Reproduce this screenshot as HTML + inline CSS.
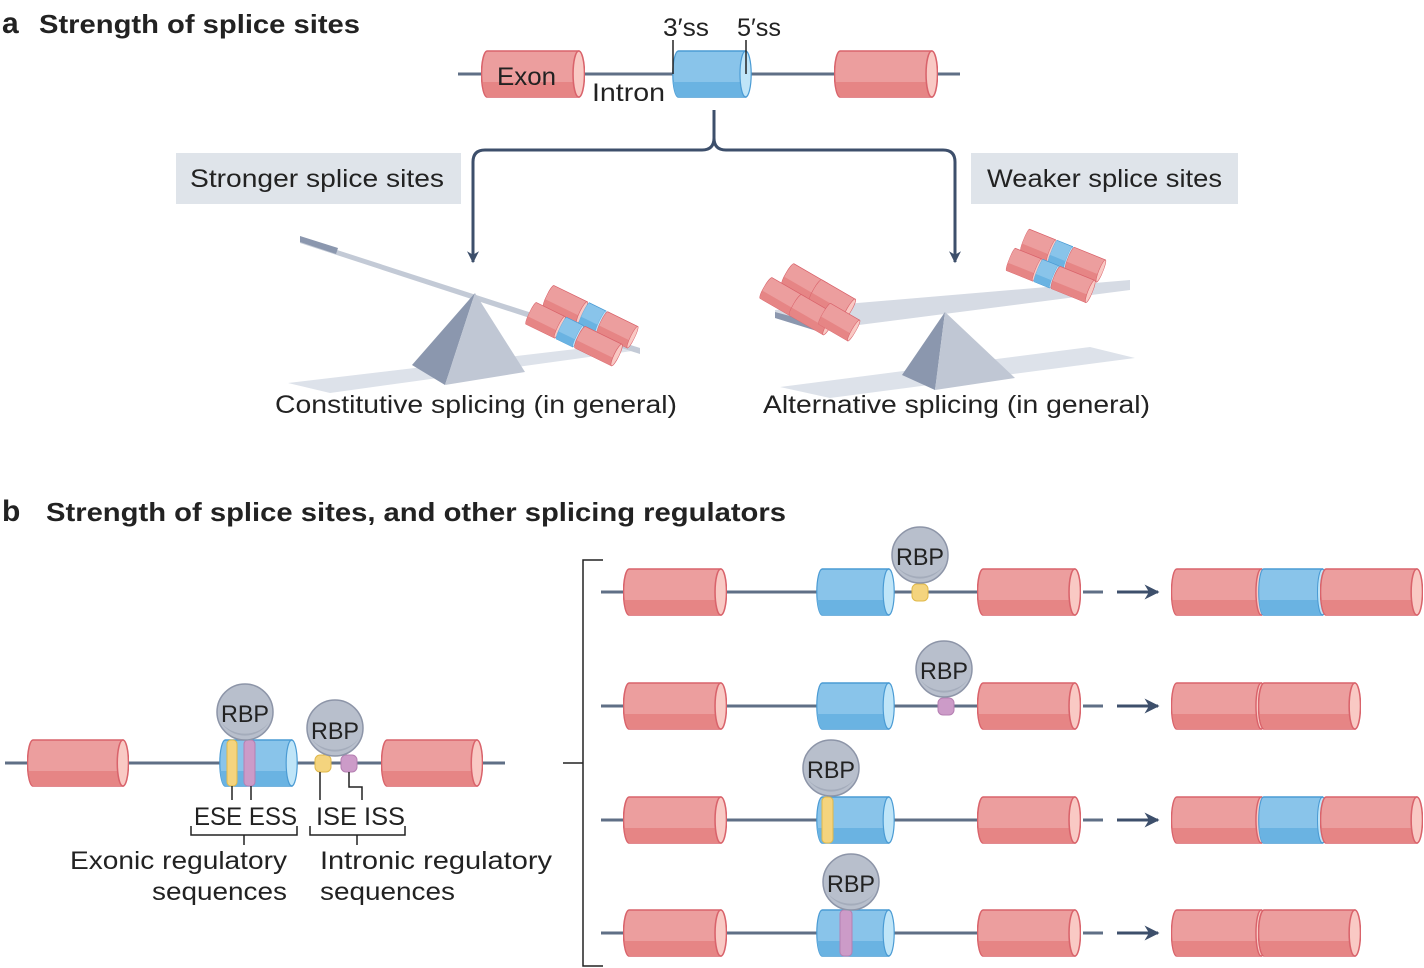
<!DOCTYPE html>
<html><head><meta charset="utf-8"><style>
body{margin:0;background:#fff}
svg{display:block}
text{font-family:"Liberation Sans",sans-serif;fill:#222}
.b{font-weight:bold}
</style></head><body>
<svg width="1424" height="968" viewBox="0 0 1424 968" xmlns="http://www.w3.org/2000/svg">
<defs>
<symbol id="r" viewBox="0 0 100 48" preserveAspectRatio="none">
<path d="M6,1H94V47H6A5.5,23 0 0 1 6,1Z" fill="#ec9e9e" stroke="#d9636b" stroke-width="1.5"/>
<path d="M1.5,32A5.5,23 0 0 0 6,47H94V32Z" fill="#e68585"/>
<ellipse cx="94" cy="24" rx="5.5" ry="23" fill="#f9c9c4" stroke="#d9636b" stroke-width="1.5"/>
</symbol>
<symbol id="bl" viewBox="0 0 100 48" preserveAspectRatio="none">
<path d="M8,1H92V47H8A7,23 0 0 1 8,1Z" fill="#89c4ea" stroke="#4a9bd4" stroke-width="1.5"/>
<path d="M1.5,32A7,23 0 0 0 8,47H92V32Z" fill="#6ab3e2"/>
<ellipse cx="92" cy="24" rx="7" ry="23" fill="#bfe5f8" stroke="#4a9bd4" stroke-width="1.5"/>
</symbol>
<symbol id="rb" viewBox="0 0 60 60"><circle cx="30" cy="30" r="28" fill="#b8bfcc" stroke="#8d95a8" stroke-width="1.5"/><path d="M6,40A28,28 0 0 0 54,40A28,24 0 0 1 6,40Z" fill="#a4acbb"/></symbol>
<marker id="ah" viewBox="0 0 10 10" refX="9" refY="5" markerWidth="5" markerHeight="4" orient="auto"><path d="M0,0L10,5L0,10L3,5Z" fill="#3d4f6b"/></marker>
<marker id="ah2" viewBox="0 0 10 10" refX="9" refY="5" markerWidth="6" markerHeight="5" orient="auto"><path d="M0,0L10,5L0,10L3,5Z" fill="#3d4f6b"/></marker>
</defs>

<!-- Section a -->
<text x="2" y="33" font-size="30" class="b">a</text>
<text x="39" y="33" font-size="26" class="b" textLength="321" lengthAdjust="spacingAndGlyphs">Strength of splice sites</text>
<line x1="458" y1="74" x2="960" y2="74" stroke="#5f6f86" stroke-width="3"/>
<use href="#r" x="481" y="50" width="104" height="48"/>
<use href="#bl" x="672" y="50" width="80" height="48"/>
<use href="#r" x="834" y="50" width="104" height="48"/>
<text x="497" y="85" font-size="25" textLength="59" lengthAdjust="spacingAndGlyphs">Exon</text>
<text x="592" y="101" font-size="25" textLength="73" lengthAdjust="spacingAndGlyphs">Intron</text>
<text x="663" y="36" font-size="25" textLength="46" lengthAdjust="spacingAndGlyphs">3′ss</text>
<text x="737" y="36" font-size="25" textLength="44" lengthAdjust="spacingAndGlyphs">5′ss</text>
<line x1="673" y1="40" x2="673" y2="74" stroke="#222" stroke-width="1.5"/>
<line x1="746" y1="40" x2="746" y2="74" stroke="#222" stroke-width="1.5"/>
<path d="M714,110V138Q714,150 702,150H485Q473,150 473,162V262" fill="none" stroke="#3d4f6b" stroke-width="3" marker-end="url(#ah)"/>
<path d="M714,138Q714,150 726,150H943Q955,150 955,162V262" fill="none" stroke="#3d4f6b" stroke-width="3" marker-end="url(#ah)"/>
<rect x="176" y="153" width="285" height="51" fill="#dfe4ea"/>
<text x="190" y="187" font-size="25" textLength="254" lengthAdjust="spacingAndGlyphs">Stronger splice sites</text>
<rect x="971" y="153" width="267" height="51" fill="#dfe4ea"/>
<text x="987" y="187" font-size="25" textLength="235" lengthAdjust="spacingAndGlyphs">Weaker splice sites</text>

<!-- left seesaw -->
<polygon points="288,383 610,345 640,350 330,393" fill="#dde2ea"/>
<polygon points="300,238 640,348 640,354 300,243" fill="#c3cad6"/>
<polygon points="300,236 338,248 336,254 300,242" fill="#8b97ae"/>
<polygon points="475,293 412,365 445,385" fill="#8b97ae"/>
<polygon points="475,293 445,385 525,372" fill="#c0c7d4"/>
<g transform="translate(552,284) rotate(26)">
<use href="#r" x="0" y="0" width="42" height="25"/><use href="#bl" x="40" y="0" width="22" height="25"/><use href="#r" x="60" y="0" width="38" height="25"/>
<use href="#r" x="-8" y="23" width="36" height="25"/><use href="#bl" x="26" y="23" width="22" height="25"/><use href="#r" x="46" y="23" width="46" height="25"/>
</g>
<text x="275" y="413" font-size="25" textLength="402" lengthAdjust="spacingAndGlyphs">Constitutive splicing (in general)</text>

<!-- right seesaw -->
<polygon points="780,387 1090,347 1135,358 830,398" fill="#dde2ea"/>
<polygon points="775,310 1130,280 1130,290 820,330 775,318" fill="#d6dbe4"/>
<polygon points="775,312 820,324 820,332 775,318" fill="#8b97ae"/>
<polygon points="945,312 902,375 935,390" fill="#8b97ae"/>
<polygon points="945,312 935,390 1015,378" fill="#c0c7d4"/>
<g transform="translate(792,262) rotate(30)">
<use href="#r" x="0" y="0" width="44" height="25"/><use href="#r" x="32" y="0" width="44" height="25"/>
<use href="#r" x="-12" y="23" width="44" height="25"/><use href="#r" x="22" y="23" width="44" height="25"/><use href="#r" x="52" y="16" width="38" height="25"/>
</g>
<g transform="translate(1028,228) rotate(22)">
<use href="#r" x="0" y="0" width="32" height="25"/><use href="#bl" x="30" y="0" width="20" height="25"/><use href="#r" x="48" y="0" width="38" height="25"/>
<use href="#r" x="-6" y="23" width="32" height="25"/><use href="#bl" x="24" y="23" width="20" height="25"/><use href="#r" x="42" y="23" width="42" height="25"/>
</g>
<text x="763" y="413" font-size="25" textLength="387" lengthAdjust="spacingAndGlyphs">Alternative splicing (in general)</text>

<!-- Section b -->
<text x="2" y="521" font-size="30" class="b">b</text>
<text x="46" y="521" font-size="26" class="b" textLength="740" lengthAdjust="spacingAndGlyphs">Strength of splice sites, and other splicing regulators</text>

<line x1="5" y1="763" x2="505" y2="763" stroke="#5f6f86" stroke-width="3"/>
<use href="#r" x="27" y="739" width="102" height="48"/>
<use href="#bl" x="219" y="739" width="79" height="48"/>
<rect x="227" y="740" width="10" height="46" rx="4" fill="#f4d47e" stroke="#e0b94a"/>
<rect x="244" y="740" width="11" height="46" rx="4" fill="#cc9bc8" stroke="#b57fb2"/>
<use href="#r" x="381" y="739" width="102" height="48"/>
<rect x="315" y="755" width="16" height="17" rx="5" fill="#f4d47e" stroke="#e0b94a"/>
<rect x="341" y="755" width="16" height="17" rx="5" fill="#cc9bc8" stroke="#b57fb2"/>
<use href="#rb" x="215" y="682" width="60" height="60"/>
<text x="221" y="722" font-size="24" textLength="48" lengthAdjust="spacingAndGlyphs">RBP</text>
<use href="#rb" x="305" y="698" width="60" height="60"/>
<text x="311" y="739" font-size="24" textLength="48" lengthAdjust="spacingAndGlyphs">RBP</text>
<g stroke="#222" stroke-width="1.5" fill="none">
<line x1="232" y1="786" x2="232" y2="800"/><line x1="251" y1="786" x2="251" y2="800"/>
<line x1="320" y1="772" x2="320" y2="800"/><path d="M349,772V787H362V800"/>
<path d="M191,826V835H297V826M244,835V845"/>
<path d="M310,826V835H405V826M357,835V845"/>
</g>
<text x="194" y="825" font-size="25" textLength="103" lengthAdjust="spacingAndGlyphs">ESE ESS</text>
<text x="316" y="825" font-size="25" textLength="89" lengthAdjust="spacingAndGlyphs">ISE ISS</text>
<text x="70" y="869" font-size="25" textLength="217" lengthAdjust="spacingAndGlyphs">Exonic regulatory</text>
<text x="152" y="900" font-size="25" textLength="135" lengthAdjust="spacingAndGlyphs">sequences</text>
<text x="320" y="869" font-size="25" textLength="232" lengthAdjust="spacingAndGlyphs">Intronic regulatory</text>
<text x="320" y="900" font-size="25" textLength="135" lengthAdjust="spacingAndGlyphs">sequences</text>

<path d="M603,560H583V966H603M563,763H583" fill="none" stroke="#222" stroke-width="1.5"/>

<!-- rows -->
<g>
<line x1="601" y1="592" x2="1075" y2="592" stroke="#5f6f86" stroke-width="3"/>
<line x1="1083" y1="592" x2="1103" y2="592" stroke="#5f6f86" stroke-width="3"/>
<use href="#r" x="623" y="568" width="104" height="48"/>
<use href="#bl" x="816" y="568" width="79" height="48"/>
<use href="#r" x="977" y="568" width="104" height="48"/>
</g>
<rect x="912" y="584" width="16" height="17" rx="5" fill="#f4d47e" stroke="#e0b94a"/>
<use href="#rb" x="890" y="525" width="60" height="60"/><text x="896" y="565" font-size="24" textLength="48" lengthAdjust="spacingAndGlyphs">RBP</text>

<g>
<line x1="601" y1="706" x2="1075" y2="706" stroke="#5f6f86" stroke-width="3"/>
<line x1="1083" y1="706" x2="1103" y2="706" stroke="#5f6f86" stroke-width="3"/>
<use href="#r" x="623" y="682" width="104" height="48"/>
<use href="#bl" x="816" y="682" width="79" height="48"/>
<use href="#r" x="977" y="682" width="104" height="48"/>
</g>
<rect x="938" y="698" width="16" height="17" rx="5" fill="#cc9bc8" stroke="#b57fb2"/>
<use href="#rb" x="914" y="639" width="60" height="60"/><text x="920" y="679" font-size="24" textLength="48" lengthAdjust="spacingAndGlyphs">RBP</text>

<g>
<line x1="601" y1="820" x2="1075" y2="820" stroke="#5f6f86" stroke-width="3"/>
<line x1="1083" y1="820" x2="1103" y2="820" stroke="#5f6f86" stroke-width="3"/>
<use href="#r" x="623" y="796" width="104" height="48"/>
<use href="#bl" x="816" y="796" width="79" height="48"/>
<use href="#r" x="977" y="796" width="104" height="48"/>
</g>
<rect x="822" y="797" width="11" height="46" rx="4" fill="#f4d47e" stroke="#e0b94a"/>
<use href="#rb" x="801" y="738" width="60" height="60"/><text x="807" y="778" font-size="24" textLength="48" lengthAdjust="spacingAndGlyphs">RBP</text>

<g>
<line x1="601" y1="933" x2="1075" y2="933" stroke="#5f6f86" stroke-width="3"/>
<line x1="1083" y1="933" x2="1103" y2="933" stroke="#5f6f86" stroke-width="3"/>
<use href="#r" x="623" y="909" width="104" height="48"/>
<use href="#bl" x="816" y="909" width="79" height="48"/>
<use href="#r" x="977" y="909" width="104" height="48"/>
</g>
<rect x="840" y="910" width="12" height="46" rx="4" fill="#cc9bc8" stroke="#b57fb2"/>
<use href="#rb" x="821" y="852" width="60" height="60"/><text x="827" y="892" font-size="24" textLength="48" lengthAdjust="spacingAndGlyphs">RBP</text>

<!-- arrows -->
<g stroke="#3d4f6b" stroke-width="3" marker-end="url(#ah2)">
<line x1="1117" y1="592" x2="1158" y2="592"/><line x1="1117" y1="706" x2="1158" y2="706"/>
<line x1="1117" y1="820" x2="1158" y2="820"/><line x1="1117" y1="933" x2="1158" y2="933"/>
</g>
<!-- results -->
<use href="#r" x="1171" y="568" width="96" height="48"/><use href="#bl" x="1258" y="568" width="70" height="48"/><use href="#r" x="1320" y="568" width="103" height="48"/>
<use href="#r" x="1171" y="682" width="96" height="48"/><use href="#r" x="1258" y="682" width="103" height="48"/>
<use href="#r" x="1171" y="796" width="96" height="48"/><use href="#bl" x="1258" y="796" width="70" height="48"/><use href="#r" x="1320" y="796" width="103" height="48"/>
<use href="#r" x="1171" y="909" width="96" height="48"/><use href="#r" x="1258" y="909" width="103" height="48"/>
</svg>
</body></html>
